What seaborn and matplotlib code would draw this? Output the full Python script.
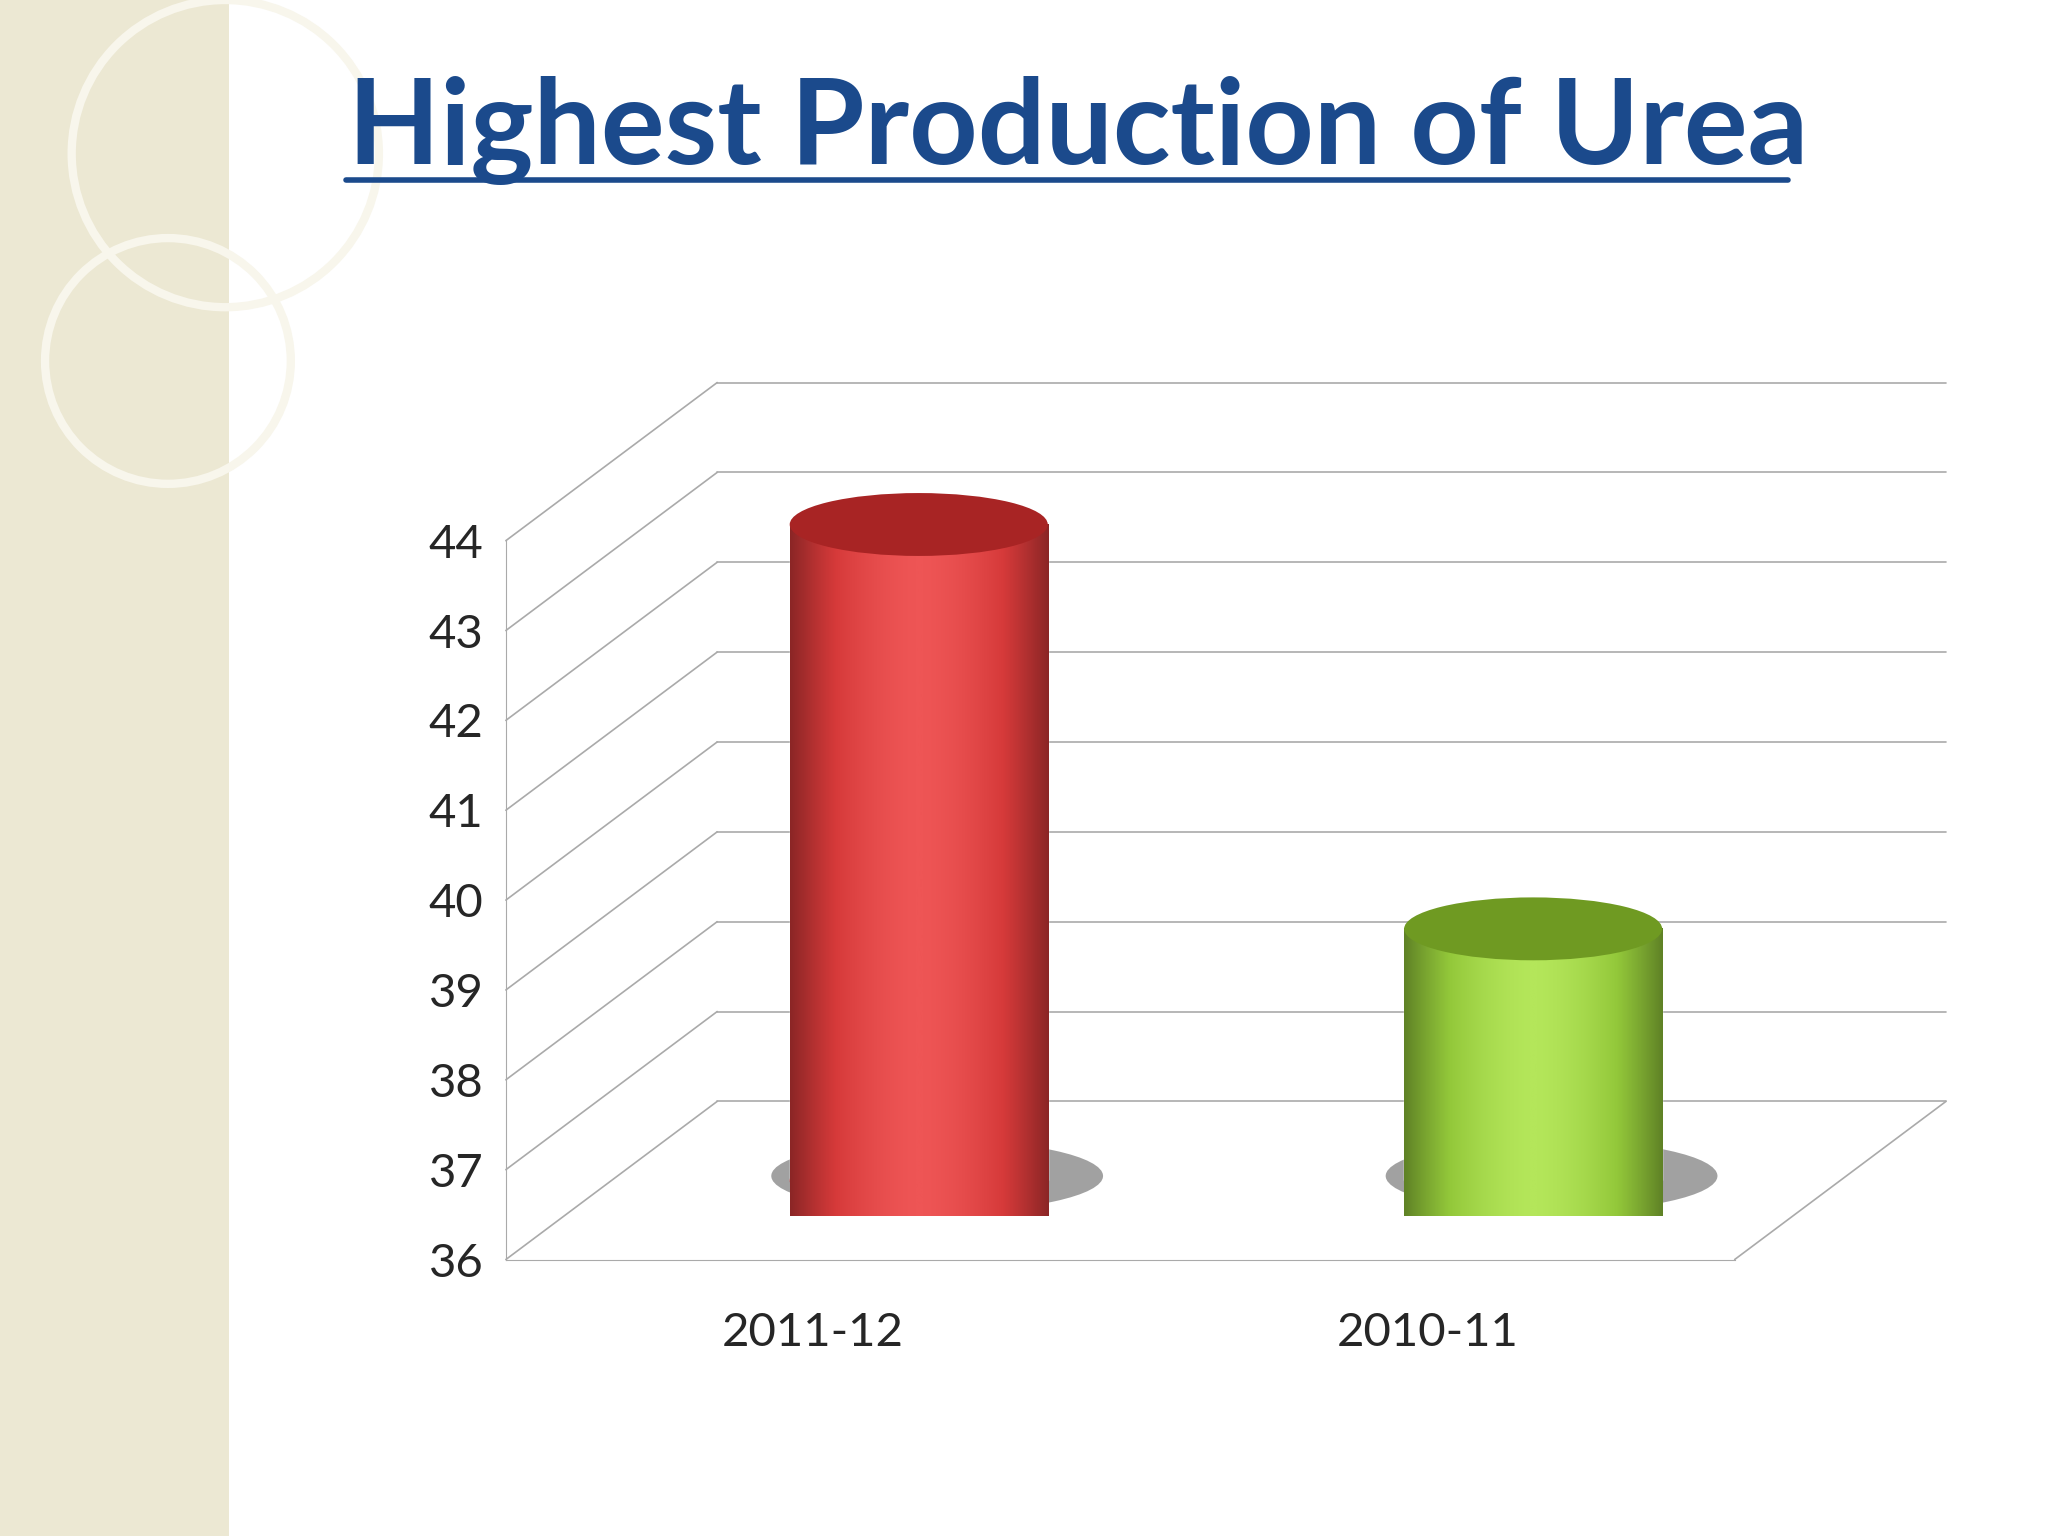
import numpy as np
import matplotlib
matplotlib.use("Agg")
import matplotlib.pyplot as plt
import matplotlib.transforms as mtransforms
from matplotlib.patches import Ellipse, Rectangle, Circle
import seaborn as sns
import pandas as pd

categories = ["2011-12", "2010-11"]
values = [43.3, 38.8]
bar_colors = ["#d63a3a", "#93c83a"]
light_colors = ["#ee5555", "#b4e65a"]
top_colors = ["#a82424", "#6f9a22"]
yticks = [36, 37, 38, 39, 40, 41, 42, 43, 44]

sns.set_style("white")
plt.rcParams["font.family"] = ["Lato", "DejaVu Sans"]

fig = plt.figure(figsize=(20.48, 15.36), dpi=100)

# left decorative strip
fig.patches.append(Rectangle((0, 0), 0.112, 1, transform=fig.transFigure,
                             facecolor="#ece8d3", edgecolor="none", zorder=0))
for cx, cy, r in [(0.11, 0.90, 0.075), (0.082, 0.765, 0.06)]:
    fig.patches.append(Circle((cx * 20.48, cy * 15.36), r * 20.48,
                              transform=fig.dpi_scale_trans, fill=False,
                              edgecolor="#f8f6ec", lw=6, zorder=1))

fig.text(0.170, 0.915, "Highest Production of Urea", fontsize=86,
         fontweight="bold", color="#1b4a8c", ha="left", va="center")
fig.add_artist(plt.Line2D([0.169, 0.873], [0.883, 0.883], color="#1b4a8c",
                          lw=4, transform=fig.transFigure))

ax = fig.add_axes([0.247, 0.180, 0.600, 0.468])
df = pd.DataFrame({"period": categories, "value": values})
sns.barplot(data=df, x="period", y="value", hue="period", palette=bar_colors,
            width=0.42, ax=ax, legend=False, saturation=1)
ax.set_ylim(36, 44)
ax.set_xlim(-0.5, 1.5)
ax.set_yticks(yticks)
ax.set_xlabel("")
ax.set_ylabel("")
ax.tick_params(axis="y", labelsize=34, length=8, color="#999999", pad=8)
ax.tick_params(axis="x", which="major", labelsize=34, length=0, pad=38)
ax.set_xticks([-0.5, 0.5, 1.5], minor=True)
ax.tick_params(axis="x", which="minor", length=10, color="#999999")
for s in ["top", "right"]:
    ax.spines[s].set_visible(False)
for s in ["left", "bottom"]:
    ax.spines[s].set_color("#aaaaaa")
ax.patch.set_alpha(0)

# perspective back wall
dx, dy = 0.172, 0.220
for v in yticks:
    f = (v - 36) / 8
    ax.plot([0, dx], [f, f + dy], color="#aaaaaa", lw=1.2, transform=ax.transAxes, clip_on=False)
    ax.plot([dx, 1 + dx], [f + dy, f + dy], color="#aaaaaa", lw=1.2,
            transform=ax.transAxes, clip_on=False, zorder=0)
ax.plot([1, 1 + dx], [0, dy], color="#aaaaaa", lw=1.2, transform=ax.transAxes, clip_on=False)

# shift bars to mid-depth
w_in, h_in = 0.600 * 20.48, 0.468 * 15.36
shift = mtransforms.ScaledTranslation(dx / 2 * w_in, dy / 2 * h_in, fig.dpi_scale_trans)
tr = ax.transData + shift
for i, (p, v) in enumerate(zip(ax.patches[:len(values)], values)):
    p.set_y(36)
    p.set_height(v - 36)
    p.set_transform(tr)
    p.set_clip_on(False)
    p.set_zorder(3)
    x0 = i - 0.21
    ax.add_patch(Ellipse((i + 0.03, 36.05), 0.54, 0.8, transform=tr, facecolor="#444444",
                         alpha=0.5, edgecolor="none", zorder=2, clip_on=False))
    ax.add_patch(Ellipse((i, 36), 0.42, 0.7, transform=tr, facecolor=bar_colors[i],
                         edgecolor="none", zorder=3, clip_on=False))
    grad = np.abs(np.linspace(-1, 1, 200))[None, :] ** 1.6
    base = matplotlib.colors.to_rgb(bar_colors[i])
    cmap = matplotlib.colors.LinearSegmentedColormap.from_list(
        "g", [matplotlib.colors.to_rgb(light_colors[i]), base,
              tuple(c * 0.65 for c in base)])
    im = ax.imshow(grad, extent=(x0, x0 + 0.42, 36, v), aspect="auto", cmap=cmap,
                   transform=tr, zorder=3.5, clip_on=False)
    im.set_clip_path(p)
    bot = Ellipse((i, 36), 0.42, 0.7, transform=tr, facecolor="none",
                  edgecolor="none", zorder=3.6, clip_on=False)
    ax.add_patch(bot)
    im2 = ax.imshow(grad, extent=(x0, x0 + 0.42, 35.6, 36.4), aspect="auto", cmap=cmap,
                    transform=tr, zorder=3.6, clip_on=False)
    im2.set_clip_path(bot)
    ax.add_patch(Ellipse((i, v), 0.42, 0.7, transform=tr, facecolor=top_colors[i],
                         edgecolor="none", zorder=4, clip_on=False))
ax.set_xlim(-0.5, 1.5)
ax.set_ylim(36, 44)

fig.savefig("out.png", dpi=100)
